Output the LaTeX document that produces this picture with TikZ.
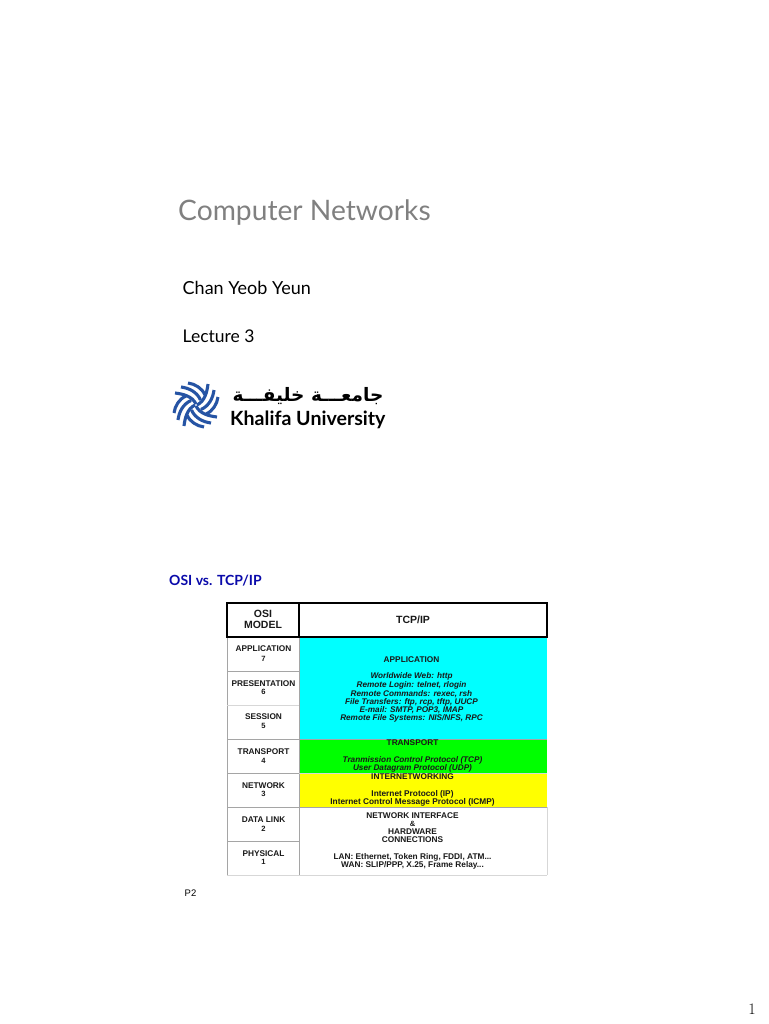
\documentclass[tikz,border=0pt]{standalone}
\usepackage{fontspec}
\setmainfont{Liberation Sans}
\newfontfamily\gill{Lato}
\newfontfamily\arabicfont[Script=Arabic]{DejaVu Sans}
\TeXXeTstate=1
\definecolor{titlegrey}{RGB}{128,128,128}
\definecolor{kublue}{RGB}{38,84,164}
\definecolor{headblue}{RGB}{10,10,170}
\definecolor{rulegrey}{RGB}{165,165,165}
\definecolor{rulelight}{RGB}{215,215,215}
\definecolor{appcyan}{RGB}{0,255,255}
\definecolor{trgreen}{RGB}{0,255,0}
\definecolor{netyellow}{RGB}{255,255,0}
\definecolor{softblack}{RGB}{25,25,25}
\begin{document}
\begin{tikzpicture}[x=1pt,y=-1pt,
  lbl/.style={inner sep=0pt,anchor=center,align=center,text=softblack,yshift=-0.6pt,font=\fontsize{8.3}{9}\selectfont\bfseries},
  num/.style={lbl,font=\fontsize{7.6}{8}\selectfont\bfseries},
  ital/.style={lbl,font=\fontsize{8.2}{9}\selectfont\bfseries\itshape},
  head/.style={lbl,font=\fontsize{10.5}{11}\selectfont\bfseries},
  gilltext/.style={inner sep=0pt,anchor=base west,font=\gill},
  strand/.style={draw=kublue,line width=3.1pt,line cap=butt},
  blackrule/.style={draw=black,line width=1.3pt},
  greyrule/.style={draw=rulegrey,line width=1pt},
  lightrule/.style={draw=rulelight,line width=.8pt}]
\useasboundingbox (0,0) rectangle (768,1024);
\fill[white] (0,0) rectangle (768,1024);

% title block
\node[gilltext,text=titlegrey,font=\gill\fontsize{28.2}{30}\selectfont] (title) at (178,221) {Computer Networks};
\node[gilltext,font=\gill\fontsize{18}{20}\selectfont] (author) at (182.5,294) {Chan Yeob Yeun};
\node[gilltext,font=\gill\fontsize{17.5}{20}\selectfont] (lecture) at (182.5,342) {Lecture 3};

% logo
\foreach \a in {0,90,180,270}{
  \begin{scope}[shift={(196,405)},rotate=\a]
    \draw[strand] (-8,-22) .. controls (-1,-21) and (6,-17) .. (9,-10);
    \draw[strand] (-15,-18) .. controls (-7,-17) and (1,-13) .. (4.5,-5);
    \draw[strand] (-21,-12) .. controls (-13,-11) and (-4,-9) .. (0,-1);
  \end{scope}
}
\node[inner sep=0pt,anchor=base,font=\arabicfont\bfseries\fontsize{18.5}{22}\selectfont] (arabic) at (308,401) {\beginR جامعـــة خليفـــة\endR};
\node[gilltext,font=\gill\bfseries\fontsize{19.6}{21}\selectfont] (ku) at (230,425) {Khalifa University};

% second slide heading
\node[gilltext,text=headblue,font=\gill\bfseries\fontsize{14}{15}\selectfont] (osivs) at (169,585) {OSI vs. TCP/IP};

% table fills
\fill[appcyan] (299,637) rectangle (547,739);
\fill[trgreen] (299,739) rectangle (547,773);
\fill[netyellow] (299,773) rectangle (547,807);

% table rules
\draw[greyrule] (227,637) -- (227,875);
\draw[greyrule] (299,637) -- (299,875);
\draw[lightrule] (227,875) -- (547,875);
\draw[lightrule] (547,807) -- (547,875);
\draw[greyrule] (227,671) -- (299,671);
\draw[lightrule] (227,705) -- (299,705);
\draw[greyrule] (227,739) -- (547,739);
\draw[greyrule] (227,773) -- (299,773);
\draw[lightrule] (299,773) -- (547,773);
\draw[greyrule] (227,807) -- (547,807);
\draw[greyrule] (227,841) -- (299,841);
\draw[blackrule] (227,603) rectangle (547,637);
\draw[blackrule] (299,603) -- (299,637);

% header
\node[head] (osi) at (263,613.5) {OSI};
\node[head] (model) at (263,624.5) {MODEL};
\node[head] (tcpip) at (413,619.5) {TCP/IP};

% OSI layers
\node[lbl] (l7) at (263.5,648) {APPLICATION};
\node[num] (n7) at (263.5,658) {7};
\node[lbl] (l6) at (263.5,683) {PRESENTATION};
\node[num] (n6) at (263.5,691.5) {6};
\node[lbl] (l5) at (263.5,716.5) {SESSION};
\node[num] (n5) at (263.5,725) {5};
\node[lbl] (l4) at (263.5,751) {TRANSPORT};
\node[num] (n4) at (263.5,760) {4};
\node[lbl] (l3) at (263.5,785) {NETWORK};
\node[num] (n3) at (263.5,793) {3};
\node[lbl] (l2) at (263.5,819) {DATA LINK};
\node[num] (n2) at (263.5,828) {2};
\node[lbl] (l1) at (263.5,853.5) {PHYSICAL};
\node[num] (n1) at (263.5,861.5) {1};

% TCP/IP
\node[lbl] (app) at (411.5,659.5) {APPLICATION};
\node[ital] (a1) at (411.5,676) {Worldwide Web: http};
\node[ital] (a2) at (411.5,685) {Remote Login: telnet, rlogin};
\node[ital] (a3) at (411.5,693.5) {Remote Commands: rexec, rsh};
\node[ital] (a4) at (411.5,701.5) {File Transfers: ftp, rcp, tftp, UUCP};
\node[ital] (a5) at (411.5,709.5) {E-mail: SMTP, POP3, IMAP};
\node[ital] (a6) at (411.5,717.5) {Remote File Systems: NIS/NFS, RPC};
\node[lbl] (tr) at (412.5,742) {TRANSPORT};
\node[ital] (t1) at (412.5,759.5) {Tranmission Control Protocol (TCP)};
\node[ital] (t2) at (412.5,767.5) {User Datagram Protocol (UDP)};
\node[lbl] (inet) at (412.5,776) {INTERNETWORKING};
\node[lbl] (i1) at (412.5,793.5) {Internet Protocol (IP)};
\node[lbl] (i2) at (412.5,802) {Internet Control Message Protocol (ICMP)};
\node[lbl] (nif) at (412.5,815) {NETWORK INTERFACE};
\node[num] (amp) at (412.5,823) {\&};
\node[lbl] (hw) at (412.5,831) {HARDWARE};
\node[lbl] (conn) at (412.5,839) {CONNECTIONS};
\node[lbl] (lan) at (412.5,857) {LAN: Ethernet, Token Ring, FDDI, ATM...};
\node[lbl] (wan) at (412.5,865) {WAN: SLIP/PPP, X.25, Frame Relay...};

% footers
\node[inner sep=0pt,font=\fontsize{9.5}{10}\selectfont] (p2) at (190.5,893) {P2};
\node[inner sep=0pt,anchor=base,font=\fontfamily{lmr}\fontsize{16}{17}\selectfont] (page) at (752,1014) {1};
\end{tikzpicture}
\end{document}
